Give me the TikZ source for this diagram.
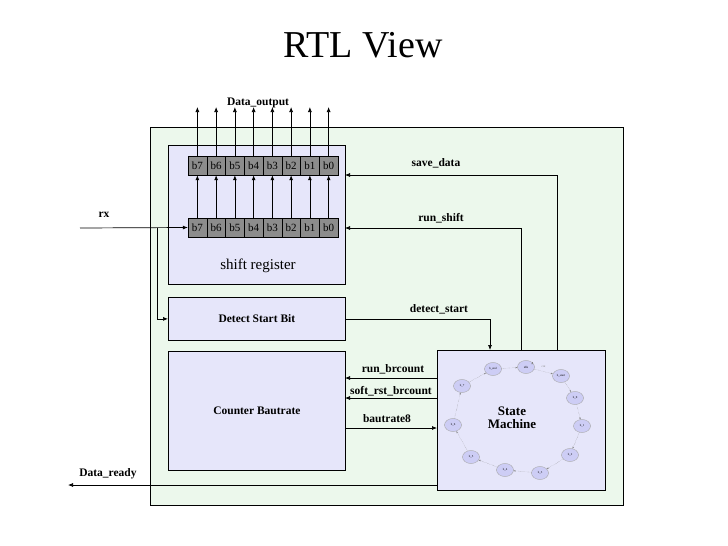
\documentclass[tikz,border=0pt]{standalone}
\usepackage{fontspec}
\setmainfont{Liberation Serif}
\usetikzlibrary{arrows.meta,shapes.geometric}
\definecolor{bgg}{RGB}{236,248,236}
\definecolor{lav}{RGB}{230,230,250}
\definecolor{cellg}{RGB}{140,140,140}
\definecolor{st}{RGB}{205,205,245}
\begin{document}
\begin{tikzpicture}[x=1pt,y=-1pt,
  box/.style={draw=black,line width=0.8pt,fill=lav},
  cell/.style={draw=black,fill=cellg,minimum width=18.75pt,minimum height=19pt,inner sep=0,font=\fontsize{11}{11}\selectfont},
  lab/.style={font=\bfseries\fontsize{11.5}{13}\selectfont},
  arr/.style={-{Latex[length=5pt,width=4pt]},line width=0.7pt},
  sn/.style={ellipse,draw=gray!70,fill=st,minimum width=17pt,minimum height=13pt,inner sep=0,font=\fontsize{3}{3}\selectfont},
  sa/.style={->,densely dotted,gray,line width=0.3pt,>={Stealth[length=2pt]}}]
\useasboundingbox (0,0) rectangle (728,546);
\node (title) at (363,45) {\fontsize{38}{42}\selectfont RTL View};
\draw[fill=bgg,line width=0.8pt] (150,127) rectangle (623,505);
\node[box,minimum width=177pt,minimum height=139pt,anchor=north west] (sr) at (168,145) {};
\node (srl) at (258,266) {\fontsize{15}{17}\selectfont shift register};
\node[box,minimum width=177pt,minimum height=43pt,anchor=north west,lab] (det) at (168,297) {Detect Start Bit};
\node[box,minimum width=177pt,minimum height=119pt,anchor=north west,lab] (cnt) at (168,351) {Counter Bautrate};
\node[box,minimum width=168pt,minimum height=140pt,anchor=north west] (sm) at (437,350) {};
\node[lab,align=center] (sml) at (512,418) {\fontsize{13}{15}\selectfont State\\\fontsize{13}{15}\selectfont Machine};
\foreach \b [count=\i] in {7,6,5,4,3,2,1,0}{
  \node[cell] (u\i) at ({188+9.375+(\i-1)*18.75},165.5) {b\b};
  \node[cell] (l\i) at ({188+9.375+(\i-1)*18.75},227.5) {b\b};
  \coordinate (o\i) at ({188+9.375+(\i-1)*18.75},107);
  \draw[arr] (u\i.north) -- (o\i);
  \draw[arr] (l\i.north) -- (u\i.south);
}
\node[lab] (dout) at (258,103) {Data\_output};
\node[lab] (rx) at (104,215) {rx};
\coordinate (rxs) at (80,228);
\draw[arr] (rxs) -- (l1.west);
\coordinate (br) at (157,228);
\draw[arr] (br) |- (det.west);
\coordinate (sd) at (557,350);
\draw[arr] (sd) |- (345,175);
\node[lab] (sdl) at (436,163) {save\_data};
\coordinate (rs) at (521,350);
\draw[arr] (rs) |- (345,228);
\node[lab] (rsl) at (441,218) {run\_shift};
\draw[arr] (det.east) -| (490,350);
\node[lab] (dsl) at (439,309) {detect\_start};
\draw[arr] (437,378) -- (345,378);
\node[lab] (rbl) at (393,369) {run\_brcount};
\draw[arr] (437,398) -- (345,398);
\node[lab] (srbl) at (391,391) {soft\_rst\_brcount};
\draw[arr] (345,428) -- (437,428);
\node[lab] (b8l) at (387,419) {bautrate8};
\coordinate (dr) at (68,485);
\draw[arr] (437,485) -- (dr);
\node[lab] (drl) at (108,474) {Data\_ready};
\node[sn] (idle) at (526,367) {idle};
\node[sn] (bs) at (561,376) {b\_start};
\node[sn] (b0) at (575,398) {b\_0};
\node[sn] (b1) at (582,426) {b\_1};
\node[sn] (b2) at (570,455) {b\_2};
\node[sn] (b3) at (540,473) {b\_3};
\node[sn] (b4) at (505,470) {b\_4};
\node[sn] (b5) at (471,457) {b\_5};
\node[sn] (b6) at (453,425) {b\_6};
\node[sn] (b7) at (462,386) {b\_7};
\node[sn] (be) at (493,369) {b\_end};
\draw[sa] (idle) -- node[above,font=\fontsize{3}{3}\selectfont]{cnt} (bs);
\draw[sa] (bs) -- (b0); \draw[sa] (b0) -- (b1); \draw[sa] (b1) -- (b2);
\draw[sa] (b2) -- (b3); \draw[sa] (b3) -- (b4); \draw[sa] (b4) -- (b5);
\draw[sa] (b5) -- (b6); \draw[sa] (b6) -- (b7); \draw[sa] (b7) -- (be);
\draw[sa] (be) -- (idle);
\draw[sa] (idle.north east) to[out=60,in=150,looseness=3] (idle.north east);
\end{tikzpicture}
\end{document}
